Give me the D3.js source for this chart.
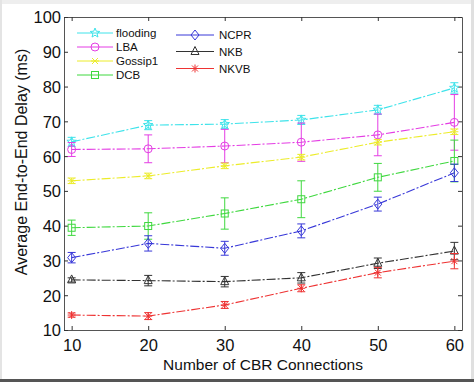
<!DOCTYPE html>
<html><head><meta charset="utf-8">
<script src="https://cdn.jsdelivr.net/npm/d3@7/dist/d3.min.js"></script>
<style>body{margin:0;background:#fff;}svg{display:block;font-family:"Liberation Sans",Arial,sans-serif;}</style>
</head><body>
<svg id="c" width="474" height="382"></svg>
<script>
const xValues = [10, 20, 30, 40, 50, 60];
const xTicks = [10, 20, 30, 40, 50, 60];
const yTicks = [10, 20, 30, 40, 50, 60, 70, 80, 90, 100];
const seriesNames = ["flooding", "LBA", "Gossip1", "DCB", "NCPR", "NKB", "NKVB"];
const flooding = [64.1, 68.9, 69.2, 70.4, 73.3, 79.6];
const floodingErr = [1.3, 1.3, 1.3, 1.3, 1.3, 1.5];
const lba = [61.9, 62.1, 62.9, 64.0, 66.1, 69.7];
const lbaErr = [2.0, 4.0, 4.8, 5.5, 6.0, 8.0];
const gossip1 = [52.9, 54.3, 57.2, 59.7, 64.0, 67.0];
const gossip1Err = [0.8, 0.8, 0.8, 0.8, 0.8, 0.8];
const dcb = [39.4, 39.9, 43.5, 47.6, 53.9, 58.6];
const dcbErr = [2.2, 3.8, 4.5, 5.3, 4.0, 6.0];
const ncpr = [30.8, 34.9, 33.5, 38.5, 46.2, 55.2];
const ncprErr = [1.5, 2.2, 2.0, 2.0, 2.0, 2.5];
const nkb = [24.4, 24.2, 23.9, 25.0, 29.2, 32.7];
const nkbErr = [0.6, 1.5, 1.5, 1.5, 1.5, 2.5];
const nkvb = [14.3, 14.0, 17.2, 22.0, 26.5, 29.8];
const nkvbErr = [0.6, 1.0, 1.0, 1.0, 1.5, 2.2];
const xLabel = "Number of CBR Connections";
const yLabel = "Average End-to-End Delay (ms)";

const series = [
  {name: seriesNames[0], v: flooding, e: floodingErr, color: "#3ee3ea", marker: "pent"},
  {name: seriesNames[1], v: lba, e: lbaErr, color: "#e43de4", marker: "circle"},
  {name: seriesNames[2], v: gossip1, e: gossip1Err, color: "#ecec2a", marker: "x"},
  {name: seriesNames[3], v: dcb, e: dcbErr, color: "#3fd83f", marker: "square"},
  {name: seriesNames[4], v: ncpr, e: ncprErr, color: "#3838d8", marker: "diamond"},
  {name: seriesNames[5], v: nkb, e: nkbErr, color: "#333333", marker: "tri"},
  {name: seriesNames[6], v: nkvb, e: nkvbErr, color: "#ee3333", marker: "ast"}
];

const svg = d3.select("#c");
// image frame
svg.append("rect").attr("x",0).attr("y",0).attr("width",474).attr("height",382).attr("fill","#ffffff");
svg.append("rect").attr("x",0).attr("y",0).attr("width",474).attr("height",4).attr("fill","#eeeeee");
svg.append("rect").attr("x",0).attr("y",0).attr("width",2).attr("height",382).attr("fill","#e4e4e4");
svg.append("rect").attr("x",471).attr("y",0).attr("width",3).attr("height",382).attr("fill","#e0e0e0");
svg.append("rect").attr("x",0).attr("y",379).attr("width",474).attr("height",3).attr("fill","#555555");

const L = 64, R = 462, T = 17, B = 330;
const x = d3.scaleLinear().domain([9, 61]).range([L, R]);
const y = d3.scaleLinear().domain([10, 100]).range([B, T]);

const axCol = "#333";
// axes with inward ticks
const gB = svg.append("g").attr("transform", `translate(0,${B})`)
  .call(d3.axisBottom(x).tickValues(xTicks).tickSizeInner(-4).tickSizeOuter(0).tickPadding(9));
const gT = svg.append("g").attr("transform", `translate(0,${T})`)
  .call(d3.axisTop(x).tickValues(xTicks).tickSizeInner(-4).tickSizeOuter(0).tickFormat(""));
const gL = svg.append("g").attr("transform", `translate(${L},0)`)
  .call(d3.axisLeft(y).tickValues(yTicks).tickSizeInner(-4).tickSizeOuter(0).tickPadding(3));
const gR = svg.append("g").attr("transform", `translate(${R},0)`)
  .call(d3.axisRight(y).tickValues(yTicks).tickSizeInner(-4).tickSizeOuter(0).tickFormat(""));
[gB, gT, gL, gR].forEach(g => {
  g.select(".domain").attr("stroke", "#555").attr("stroke-width", 1);
  g.selectAll(".tick line").attr("stroke", axCol);
  g.selectAll("text").attr("font-family", "Liberation Sans, Arial, sans-serif").attr("font-size", 16.5).attr("fill", "#111");
});
gB.selectAll("text").attr("dy", "0.71em");
gL.selectAll("text").attr("dy", "0.36em");

// axis labels
svg.append("text").attr("x", 263).attr("y", 370).attr("text-anchor", "middle")
  .attr("font-size", 15.5).attr("fill", "#111").text(xLabel);
svg.append("text").attr("transform", "translate(27,162) rotate(-90)").attr("text-anchor", "middle")
  .attr("font-size", 16).attr("fill", "#111").text(yLabel);

function drawMarker(g, type, cx, cy, color) {
  const s = 4;
  const st = {stroke: color, fill: "none", "stroke-width": 1};
  let el;
  if (type === "circle") el = g.append("circle").attr("cx", cx).attr("cy", cy).attr("r", s);
  else if (type === "square") el = g.append("rect").attr("x", cx - s + 0.5).attr("y", cy - s + 0.5).attr("width", 2*s - 1).attr("height", 2*s - 1);
  else if (type === "diamond") el = g.append("path").attr("d", `M${cx},${cy-s-1}L${cx+s},${cy}L${cx},${cy+s+1}L${cx-s},${cy}Z`);
  else if (type === "tri") el = g.append("path").attr("d", `M${cx},${cy-s-1}L${cx+s},${cy+s-1}L${cx-s},${cy+s-1}Z`);
  else if (type === "x") el = g.append("path").attr("d", `M${cx-3},${cy-3}L${cx+3},${cy+3}M${cx-3},${cy+3}L${cx+3},${cy-3}M${cx-4},${cy}L${cx+4},${cy}`);
  else if (type === "ast") el = g.append("path").attr("d", `M${cx-3},${cy-3}L${cx+3},${cy+3}M${cx-3},${cy+3}L${cx+3},${cy-3}M${cx-4},${cy}L${cx+4},${cy}M${cx},${cy-4}L${cx},${cy+4}`);
  else if (type === "pent") {
    const pts = [];
    for (let i = 0; i < 10; i++) {
      const r = i % 2 === 0 ? 5 : 2.2;
      const a = -Math.PI/2 + i * Math.PI/5;
      pts.push([cx + r*Math.cos(a), cy + r*Math.sin(a)]);
    }
    el = g.append("path").attr("d", "M" + pts.map(p => p.join(",")).join("L") + "Z");
  }
  Object.entries(st).forEach(([k, v]) => el.attr(k, v));
}

const line = d3.line().x((d, i) => x(xValues[i])).y(d => y(d));
series.forEach(sr => {
  const g = svg.append("g");
  g.append("path").attr("d", line(sr.v)).attr("fill", "none").attr("stroke", sr.color)
    .attr("stroke-width", 1.1).attr("stroke-dasharray", "9,2,2,2");
  sr.v.forEach((v, i) => {
    const cx = x(xValues[i]);
    const y1 = y(v + sr.e[i]), y2 = y(v - sr.e[i]);
    g.append("line").attr("x1", cx).attr("x2", cx).attr("y1", y1).attr("y2", y2).attr("stroke", sr.color).attr("stroke-width", 1);
    g.append("line").attr("x1", cx-4).attr("x2", cx+4).attr("y1", y1).attr("y2", y1).attr("stroke", sr.color).attr("stroke-width", 1);
    g.append("line").attr("x1", cx-4).attr("x2", cx+4).attr("y1", y2).attr("y2", y2).attr("stroke", sr.color).attr("stroke-width", 1);
    drawMarker(g, sr.marker, cx, y(v), sr.color);
  });
});

// legend
const legPos = [
  {x1: 77, x2: 113, tx: 116, y: 33},
  {x1: 77, x2: 113, tx: 116, y: 47},
  {x1: 77, x2: 113, tx: 116, y: 61},
  {x1: 77, x2: 113, tx: 116, y: 75},
  {x1: 176, x2: 214, tx: 219, y: 35},
  {x1: 176, x2: 214, tx: 219, y: 51.5},
  {x1: 176, x2: 214, tx: 219, y: 68.5}
];
series.forEach((sr, i) => {
  const p = legPos[i];
  const g = svg.append("g");
  g.append("line").attr("x1", p.x1).attr("x2", p.x2).attr("y1", p.y).attr("y2", p.y).attr("stroke", sr.color).attr("stroke-width", 1);
  drawMarker(g, sr.marker, (p.x1 + p.x2)/2, p.y, sr.color);
  g.append("text").attr("x", p.tx).attr("y", p.y).attr("dy", "0.36em").attr("font-size", 11.5).attr("fill", "#111").text(sr.name);
});
</script>
</body></html>
